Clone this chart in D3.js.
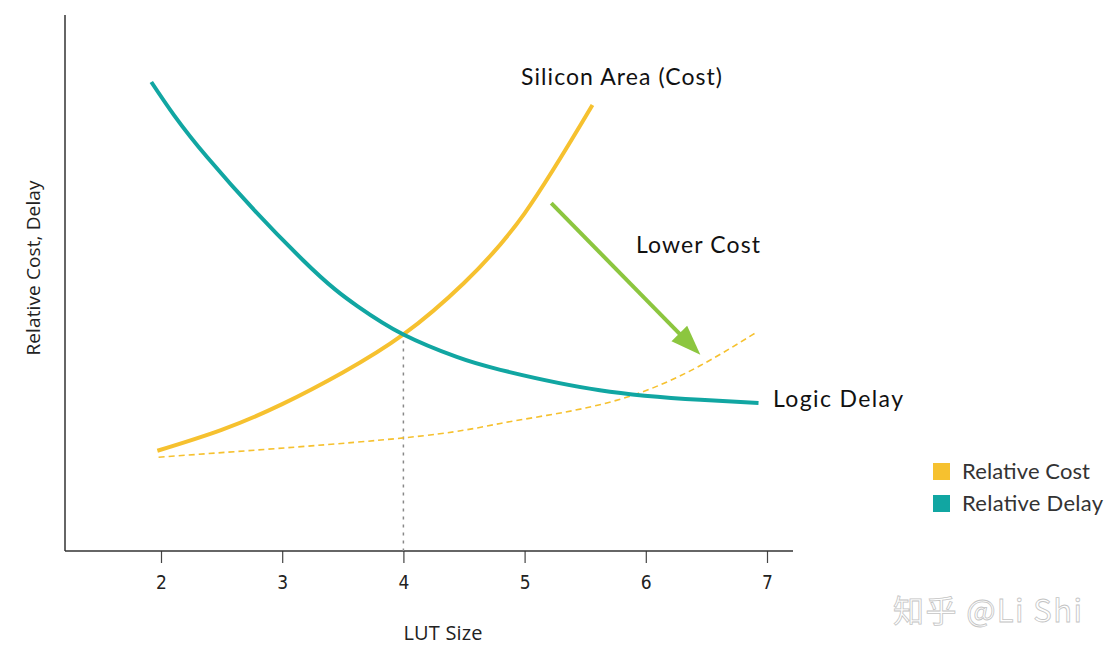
<!DOCTYPE html>
<html>
<head>
<meta charset="utf-8">
<script src="https://cdn.jsdelivr.net/npm/d3@7"></script>
<style>
  body { margin: 0; background: #fff; }
  svg { display: block; font-family: Lato, "Open Sans", sans-serif; }
</style>
</head>
<body>
<div id="chart"></div>
<script>
// LUT size vs relative cost / delay (y in relative units 0-100)
var xTicks = [2, 3, 4, 5, 6, 7];

var delayX = [1.92, 2.38, 3.17, 3.62, 4.0, 4.44, 4.8, 5.62, 6.45, 6.93];
var delayY = [87.5, 73.5, 54.3, 45.7, 40.4, 36.2, 33.8, 30.0, 28.2, 27.6];

var costX = [1.97, 2.5, 3, 3.5, 4, 4.5, 5, 5.56];
var costY = [18.7, 22.6, 27.4, 33.3, 40.4, 50.0, 63.0, 83.2];

var lowCostX = [1.98, 4.0, 4.8, 5.4, 5.95, 6.45, 6.92];
var lowCostY = [17.5, 21.1, 23.8, 26.2, 29.5, 34.6, 40.9];

var arrowFrom = [5.22, 64.9];
var arrowTo = [6.45, 36.6];

var legendNames = ["Relative Cost", "Relative Delay"];
var COL_COST = "#f6c12f", COL_DELAY = "#11a6a2", COL_ARROW = "#8cc63f";

var W = 1111, H = 656;
var svg = d3.select("#chart").append("svg").attr("width", W).attr("height", H);

var x = d3.scaleLinear().domain([2, 7]).range([161, 767]);
var y = d3.scaleLinear().domain([0, 100]).range([551, 15]);

// axes
var xAxis = d3.axisBottom(x).tickValues(xTicks).tickFormat(d3.format("d"))
  .tickSize(12).tickSizeOuter(0).tickPadding(13);
var gx = svg.append("g").attr("transform", "translate(0,551)").call(xAxis);
gx.select(".domain").remove();
gx.selectAll(".tick line").attr("stroke", "#444").attr("stroke-width", 1.2);
gx.selectAll(".tick text").attr("fill", "#222")
  .attr("font-size", 19).attr("font-family", "'DejaVu Sans Condensed', 'Open Sans', sans-serif")
  .style("font-stretch", "condensed");

svg.append("line").attr("x1", 65).attr("x2", 793).attr("y1", 551).attr("y2", 551)
  .attr("stroke", "#333").attr("stroke-width", 1.5);
svg.append("line").attr("x1", 65).attr("x2", 65).attr("y1", 15).attr("y2", 551)
  .attr("stroke", "#333").attr("stroke-width", 1.5);

svg.append("text").attr("x", 443).attr("y", 640).attr("text-anchor", "middle")
  .attr("font-size", 20).attr("font-family", "'Open Sans', sans-serif").attr("fill", "#222")
  .attr("textLength", 79).text("LUT Size");
svg.append("text").attr("transform", "translate(40,268) rotate(-90)").attr("text-anchor", "middle")
  .attr("font-size", 19).attr("font-family", "'Open Sans', sans-serif").attr("fill", "#222")
  .attr("textLength", 175).text("Relative Cost, Delay");

// guide at LUT 4
svg.append("line").attr("x1", x(4)).attr("x2", x(4)).attr("y1", y(40.4) + 6).attr("y2", 551)
  .attr("stroke", "#888").attr("stroke-width", 1.5).attr("stroke-dasharray", "3,5");

var line = d3.line().x(function(d){return x(d[0]);}).y(function(d){return y(d[1]);})
  .curve(d3.curveNatural);

svg.append("path").datum(d3.zip(lowCostX, lowCostY)).attr("d", line)
  .attr("fill", "none").attr("stroke", COL_COST).attr("stroke-width", 1.6).attr("stroke-dasharray", "6,4");
svg.append("path").datum(d3.zip(costX, costY)).attr("d", line)
  .attr("fill", "none").attr("stroke", COL_COST).attr("stroke-width", 4);
svg.append("path").datum(d3.zip(delayX, delayY)).attr("d", line)
  .attr("fill", "none").attr("stroke", COL_DELAY).attr("stroke-width", 4);

// lower cost arrow
var ax1 = x(arrowFrom[0]), ay1 = y(arrowFrom[1]), ax2 = x(arrowTo[0]), ay2 = y(arrowTo[1]);
var ang = Math.atan2(ay2 - ay1, ax2 - ax1);
var headLen = 30, headW = 11;
var bx = ax2 - headLen * Math.cos(ang), by = ay2 - headLen * Math.sin(ang);
svg.append("line").attr("x1", ax1).attr("y1", ay1).attr("x2", bx + 4 * Math.cos(ang)).attr("y2", by + 4 * Math.sin(ang))
  .attr("stroke", COL_ARROW).attr("stroke-width", 4);
svg.append("polygon").attr("fill", COL_ARROW).attr("points", [
  [ax2, ay2],
  [bx - headW * Math.sin(ang), by + headW * Math.cos(ang)],
  [bx + headW * Math.sin(ang), by - headW * Math.cos(ang)]
].map(function(p){return p.join(",");}).join(" "));

// annotations
svg.append("text").attr("x", 521).attr("y", 85).attr("font-size", 23).attr("fill", "#111")
  .attr("textLength", 201).text("Silicon Area (Cost)");
svg.append("text").attr("x", 636).attr("y", 253).attr("font-size", 23).attr("fill", "#111")
  .attr("textLength", 124).text("Lower Cost");
svg.append("text").attr("x", 773).attr("y", 407).attr("font-size", 23).attr("fill", "#111")
  .attr("textLength", 130).text("Logic Delay");

// legend
var lg = svg.append("g").attr("transform", "translate(933,463)");
lg.selectAll("rect").data(legendNames).enter().append("rect")
  .attr("x", 0).attr("y", function(d, i){return i * 32;}).attr("width", 17).attr("height", 17)
  .attr("fill", function(d, i){return i == 0 ? COL_COST : COL_DELAY;});
lg.selectAll("text").data(legendNames).enter().append("text")
  .attr("x", 29).attr("y", function(d, i){return i * 32 + 16;})
  .attr("font-size", 22).attr("fill", "#333")
  .attr("textLength", function(d, i){return i == 0 ? 128 : 141;})
  .text(function(d){return d;});

// watermark
svg.append("text").attr("x", 893).attr("y", 622)
  .attr("font-size", 31).attr("font-family", "'Noto Sans CJK SC', sans-serif")
  .attr("fill", "#fff").attr("stroke", "#c4c4c4").attr("stroke-width", 0.8)
  .attr("textLength", 189).text("知乎 @Li Shi");
</script>
</body>
</html>
